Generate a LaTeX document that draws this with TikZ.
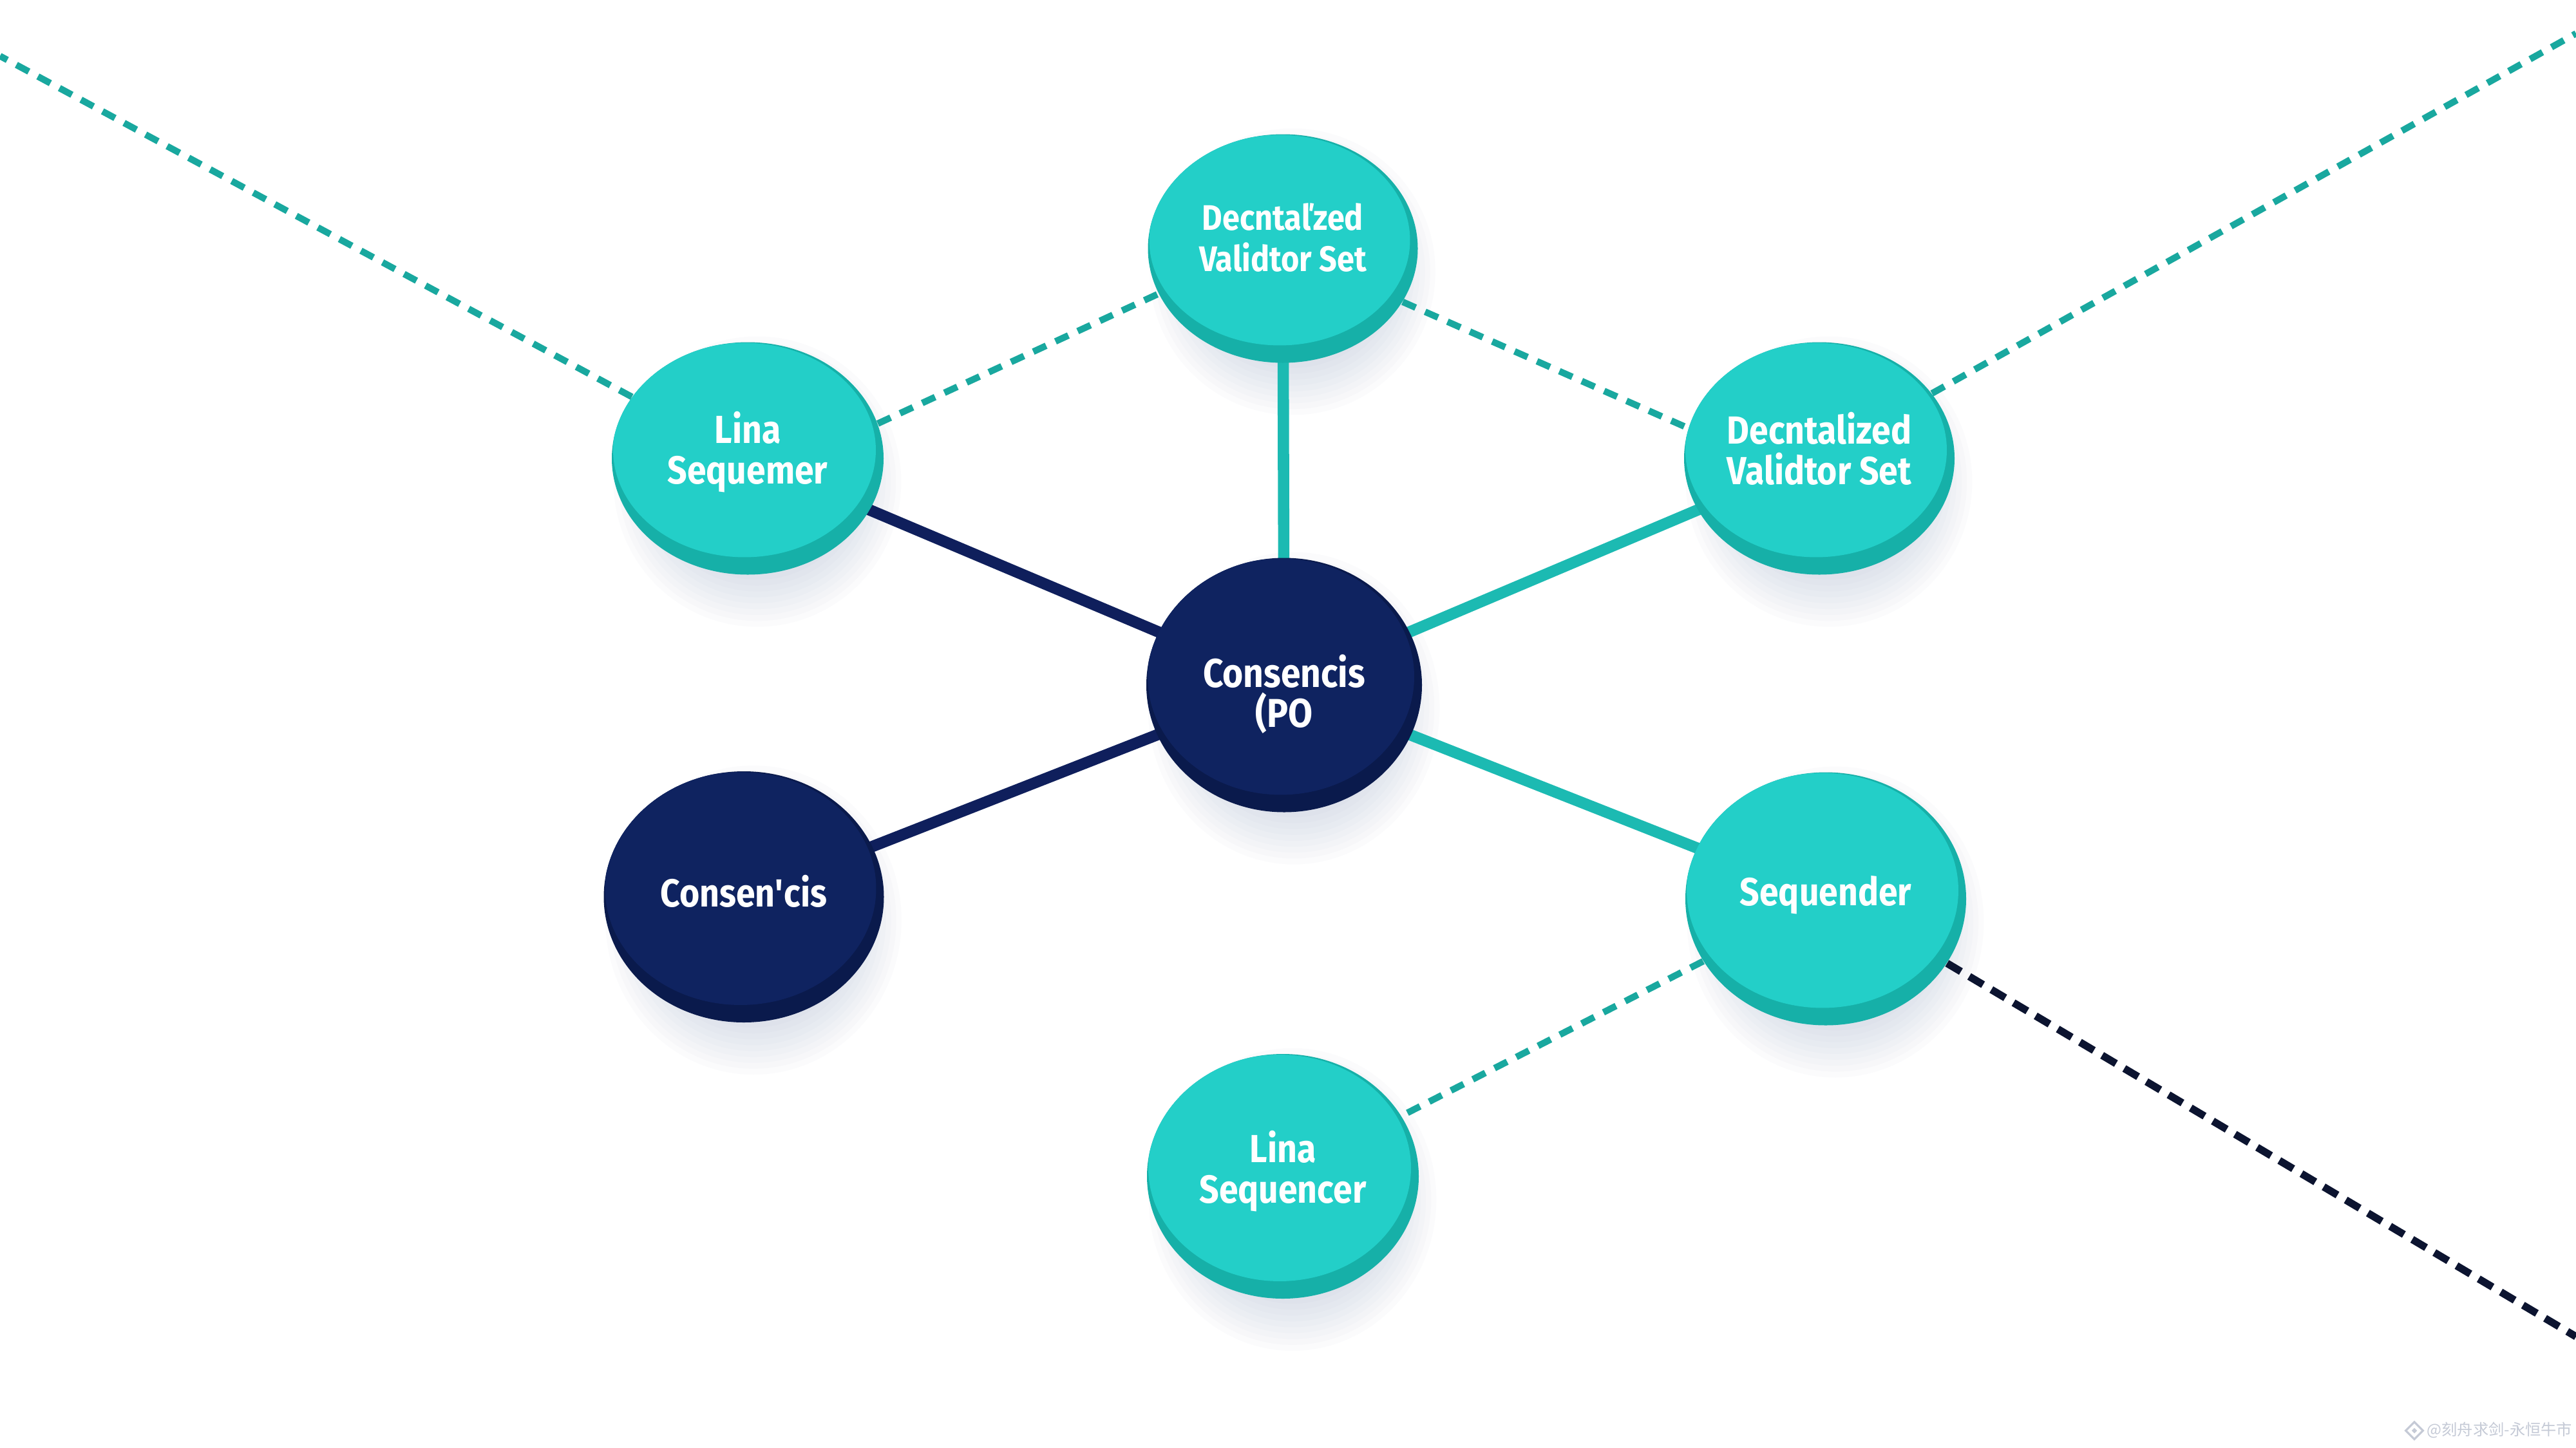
\documentclass[tikz,border=0pt]{standalone}
\usepackage{fontspec}
\setmainfont{Fira Sans}
\newfontfamily\discfont[FakeStretch=0.88]{Fira Sans}
\newfontfamily\cjk{Noto Sans CJK SC}
\usetikzlibrary{shapes.geometric,backgrounds,calc}
\definecolor{ctealface}{HTML}{23CFC8}
\definecolor{ctealrim}{HTML}{16B0A8}
\definecolor{cnavyface}{HTML}{0F2360}
\definecolor{cnavyrim}{HTML}{0A1A4C}
\definecolor{ctealline}{HTML}{1CBAB2}
\definecolor{cnavyline}{HTML}{0F1F5C}
\definecolor{ctealdash}{HTML}{19A89F}
\definecolor{cnavydash}{HTML}{0C1430}
\definecolor{cshadow}{HTML}{A4B2CC}
\definecolor{cwm}{HTML}{C5CAD6}
\begin{document}
\begin{tikzpicture}[x=1cm,y=-1cm,
  discbase/.style={ellipse, inner sep=0pt, draw=none},
  tealdisc/.style={discbase, fill=ctealrim,
    path picture={\fill[ctealface] let \p1=(path picture bounding box.south west), \p2=(path picture bounding box.north east) in ($(path picture bounding box.center)+(-0.05,-0.13)$) ellipse [x radius={0.5*(\x2-\x1)-2pt}, y radius={0.5*(\y2-\y1)-4pt}];}},
  navydisc/.style={discbase, fill=cnavyrim,
    path picture={\fill[cnavyface] let \p1=(path picture bounding box.south west), \p2=(path picture bounding box.north east) in ($(path picture bounding box.center)+(-0.05,-0.13)$) ellipse [x radius={0.5*(\x2-\x1)-2pt}, y radius={0.5*(\y2-\y1)-4pt}];}},
  lbl/.style={text=white, align=center, inner sep=0pt, font=\discfont\bfseries\fontsize{17.3}{17.9}\selectfont},
  lblsmall/.style={lbl, font=\discfont\bfseries\fontsize{15.7}{18.2}\selectfont},
  lblbig/.style={lbl, font=\discfont\bfseries\fontsize{17.8}{17.6}\selectfont},
  tealconn/.style={draw=ctealline, line width=5pt},
  navyconn/.style={draw=cnavyline, line width=5pt},
  tealdashed/.style={draw=ctealdash, line width=2.9pt, dash pattern=on 0.22cm off 0.16cm},
  navydashed/.style={draw=cnavydash, line width=3.3pt, dash pattern=on 0.25cm off 0.15cm},
  wmtext/.style={anchor=west, text=cwm, inner sep=0pt, font=\cjk\fontsize{6.9}{8}\selectfont}
]
\useasboundingbox (0,0) rectangle (40,22.48);

% discs
\node[tealdisc, minimum width=4.19cm, minimum height=3.55cm] (dvsA) at (19.92,3.86) {};
\node[tealdisc, minimum width=4.22cm, minimum height=3.61cm] (ls) at (11.61,7.12) {};
\node[tealdisc, minimum width=4.20cm, minimum height=3.61cm] (dvsB) at (28.25,7.12) {};
\node[navydisc, minimum width=4.28cm, minimum height=3.95cm] (cons) at (19.94,10.64) {};
\node[navydisc, minimum width=4.35cm, minimum height=3.90cm] (consl) at (11.55,13.93) {};
\node[tealdisc, minimum width=4.36cm, minimum height=3.93cm] (seq) at (28.35,13.96) {};
\node[tealdisc, minimum width=4.22cm, minimum height=3.80cm] (lsb) at (19.92,18.27) {};

% labels
\node[lblsmall] (dvsAt) at ($(dvsA.center)+(0,-0.17)$) {Decnta\v{l}zed\\Validtor Set};
\node[lbl] (lst) at ($(ls.center)+(0,-0.10)$) {Lina\\Sequemer};
\node[lbl] (dvsBt) at ($(dvsB.center)+(0,-0.15)$) {Decntalized\\Validtor Set};
\node[lblbig] (const) at ($(cons.center)+(0,0.14)$) {Consencis\\(PO};
\node[lbl] (conslt) at ($(consl.center)+(0,-0.09)$) {Consen\textquotesingle cis};
\node[lbl] (seqt) at ($(seq.center)+(0,-0.06)$) {Sequender};
\node[lbl] (lsbt) at ($(lsb.center)+(0,-0.08)$) {Lina\\Sequencer};

% free ends
\coordinate (tl) at (0,0.87);
\coordinate (tr) at (40,0.52);
\coordinate (br) at (40,20.76);

% background: white, shadows, solid connectors
\begin{pgfonlayer}{background}
\fill[white] (0,0) rectangle (40,22.48);
\foreach \nd in {dvsA,ls,dvsB,cons,consl,seq,lsb}{
  \foreach \k in {0,...,11}{
    \fill[cshadow, opacity=0.045] let \p1=(\nd.west), \p2=(\nd.east), \p3=(\nd.north), \p4=(\nd.south) in ($(\nd.center)+(0.15,0.36)$) ellipse [x radius={0.5*(\x2-\x1)-22pt+\k*2.3pt}, y radius={0.5*(\y3-\y4)-16pt+\k*2.6pt}];
  }
}
\draw[tealconn] (dvsA.center) -- (cons.center);
\draw[navyconn] (ls.center) -- (cons.center);
\draw[navyconn] (consl.center) -- (cons.center);
\draw[tealconn] (dvsB.center) -- (cons.center);
\draw[tealconn] (seq.center) -- (cons.center);
\end{pgfonlayer}

% dashed connectors
\draw[tealdashed] (ls.152) -- (tl);
\draw[tealdashed] (ls.15) -- (dvsA.200);
\draw[tealdashed] (dvsA.336) -- (dvsB.167);
\draw[tealdashed] (dvsB.30) -- (tr);
\draw[tealdashed] (seq.207) -- (lsb.27);
\draw[navydashed] (seq.332) -- (br);

% watermark
\node[diamond, draw=cwm, line width=0.9pt, minimum width=0.28cm, minimum height=0.28cm, inner sep=0pt] (logo) at (37.49,22.22) {};
\node[diamond, fill=cwm, minimum width=0.09cm, minimum height=0.09cm, inner sep=0pt] (logoc) at (logo.center) {};
\node[wmtext] (wm) at (37.68,22.21) {@刻舟求剑-永恒牛市};
\end{tikzpicture}
\end{document}
